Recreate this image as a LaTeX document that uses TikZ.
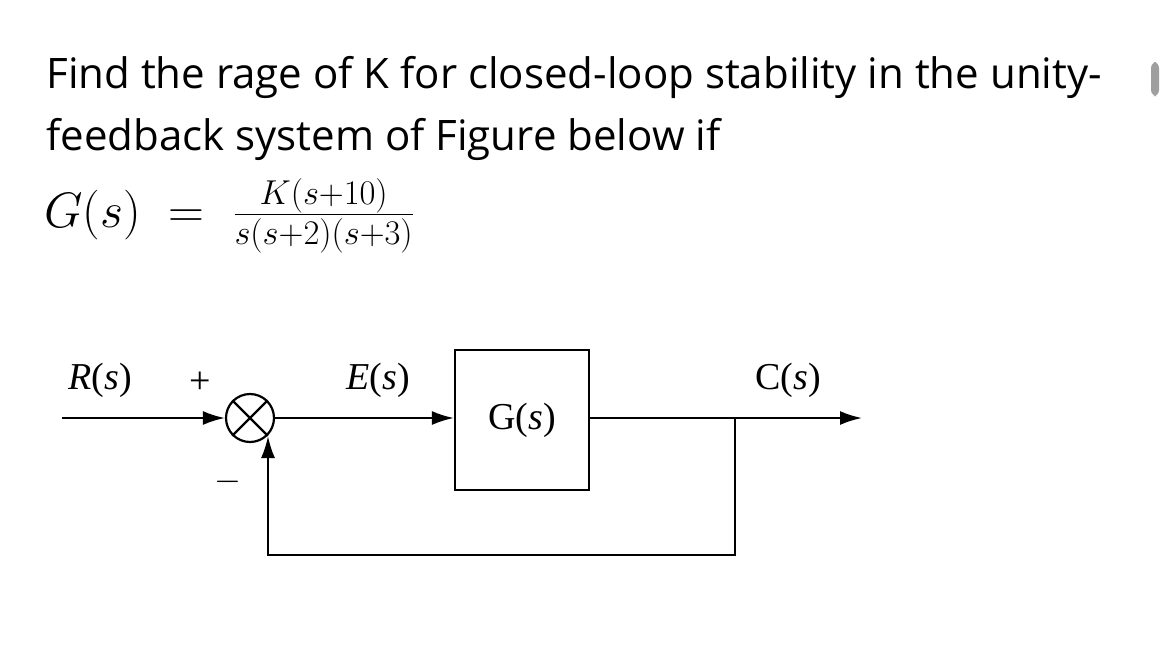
\documentclass[tikz,border=0pt]{standalone}
\usepackage{fontspec}
\setmainfont{Liberation Serif}
\newfontfamily\uisans{Open Sans}
\usetikzlibrary{arrows.meta}
\begin{document}
\begin{tikzpicture}[x=0.5pt,y=-0.5pt,
  sig/.style={line width=1.1pt},
  arr/.style={sig,-{Latex[length=11pt,width=7pt]}},
  lbl/.style={font=\fontsize{19}{22}\selectfont}]
\useasboundingbox (0,0) rectangle (1170,644);
\fill[gray!75,rounded corners=3pt] (1151,62) rectangle (1159,96);
\node[anchor=base west,inner sep=0,font=\uisans\fontsize{21}{24}\selectfont] (t1) at (46,88) {Find the rage of K for closed-loop stability in the unity-};
\node[anchor=base west,inner sep=0,font=\uisans\fontsize{21}{24}\selectfont] (t2) at (46,150) {feedback system of Figure below if};
\node[anchor=west,inner sep=0,font=\fontsize{24}{28}\selectfont] (eq) at (44,216) {$G(s)\;=\;\frac{K(s+10)}{s(s+2)(s+3)}$};
\coordinate (rin) at (62,418);
\node[draw,circle,sig,minimum size=24pt,inner sep=0] (sum) at (250,418) {};
\draw[sig] (sum.north west)--(sum.south east) (sum.north east)--(sum.south west);
\node[draw,sig,minimum width=67pt,minimum height=70pt,lbl] (g) at (522,420) {G(\textit{s})};
\coordinate (out) at (862,418);
\coordinate (tap) at (735,418);
\coordinate (bl) at (735,555);
\coordinate (br) at (268,555);
\draw[arr] (rin)--(sum.west);
\draw[arr] (sum.east)--(g.west|-sum.east);
\draw[arr] (g.east|-out)--(out);
\draw[arr] (tap)--(bl)--(br)--(268,436);
\node[lbl] (rl) at (100,380) {\textit{R}(\textit{s})};
\node[lbl] (pl) at (200,383) {+};
\node[lbl] (ml) at (228,482) {$-$};
\node[lbl] (el) at (378,380) {\textit{E}(\textit{s})};
\node[lbl] (cl) at (788,380) {C(\textit{s})};
\end{tikzpicture}
\end{document}
